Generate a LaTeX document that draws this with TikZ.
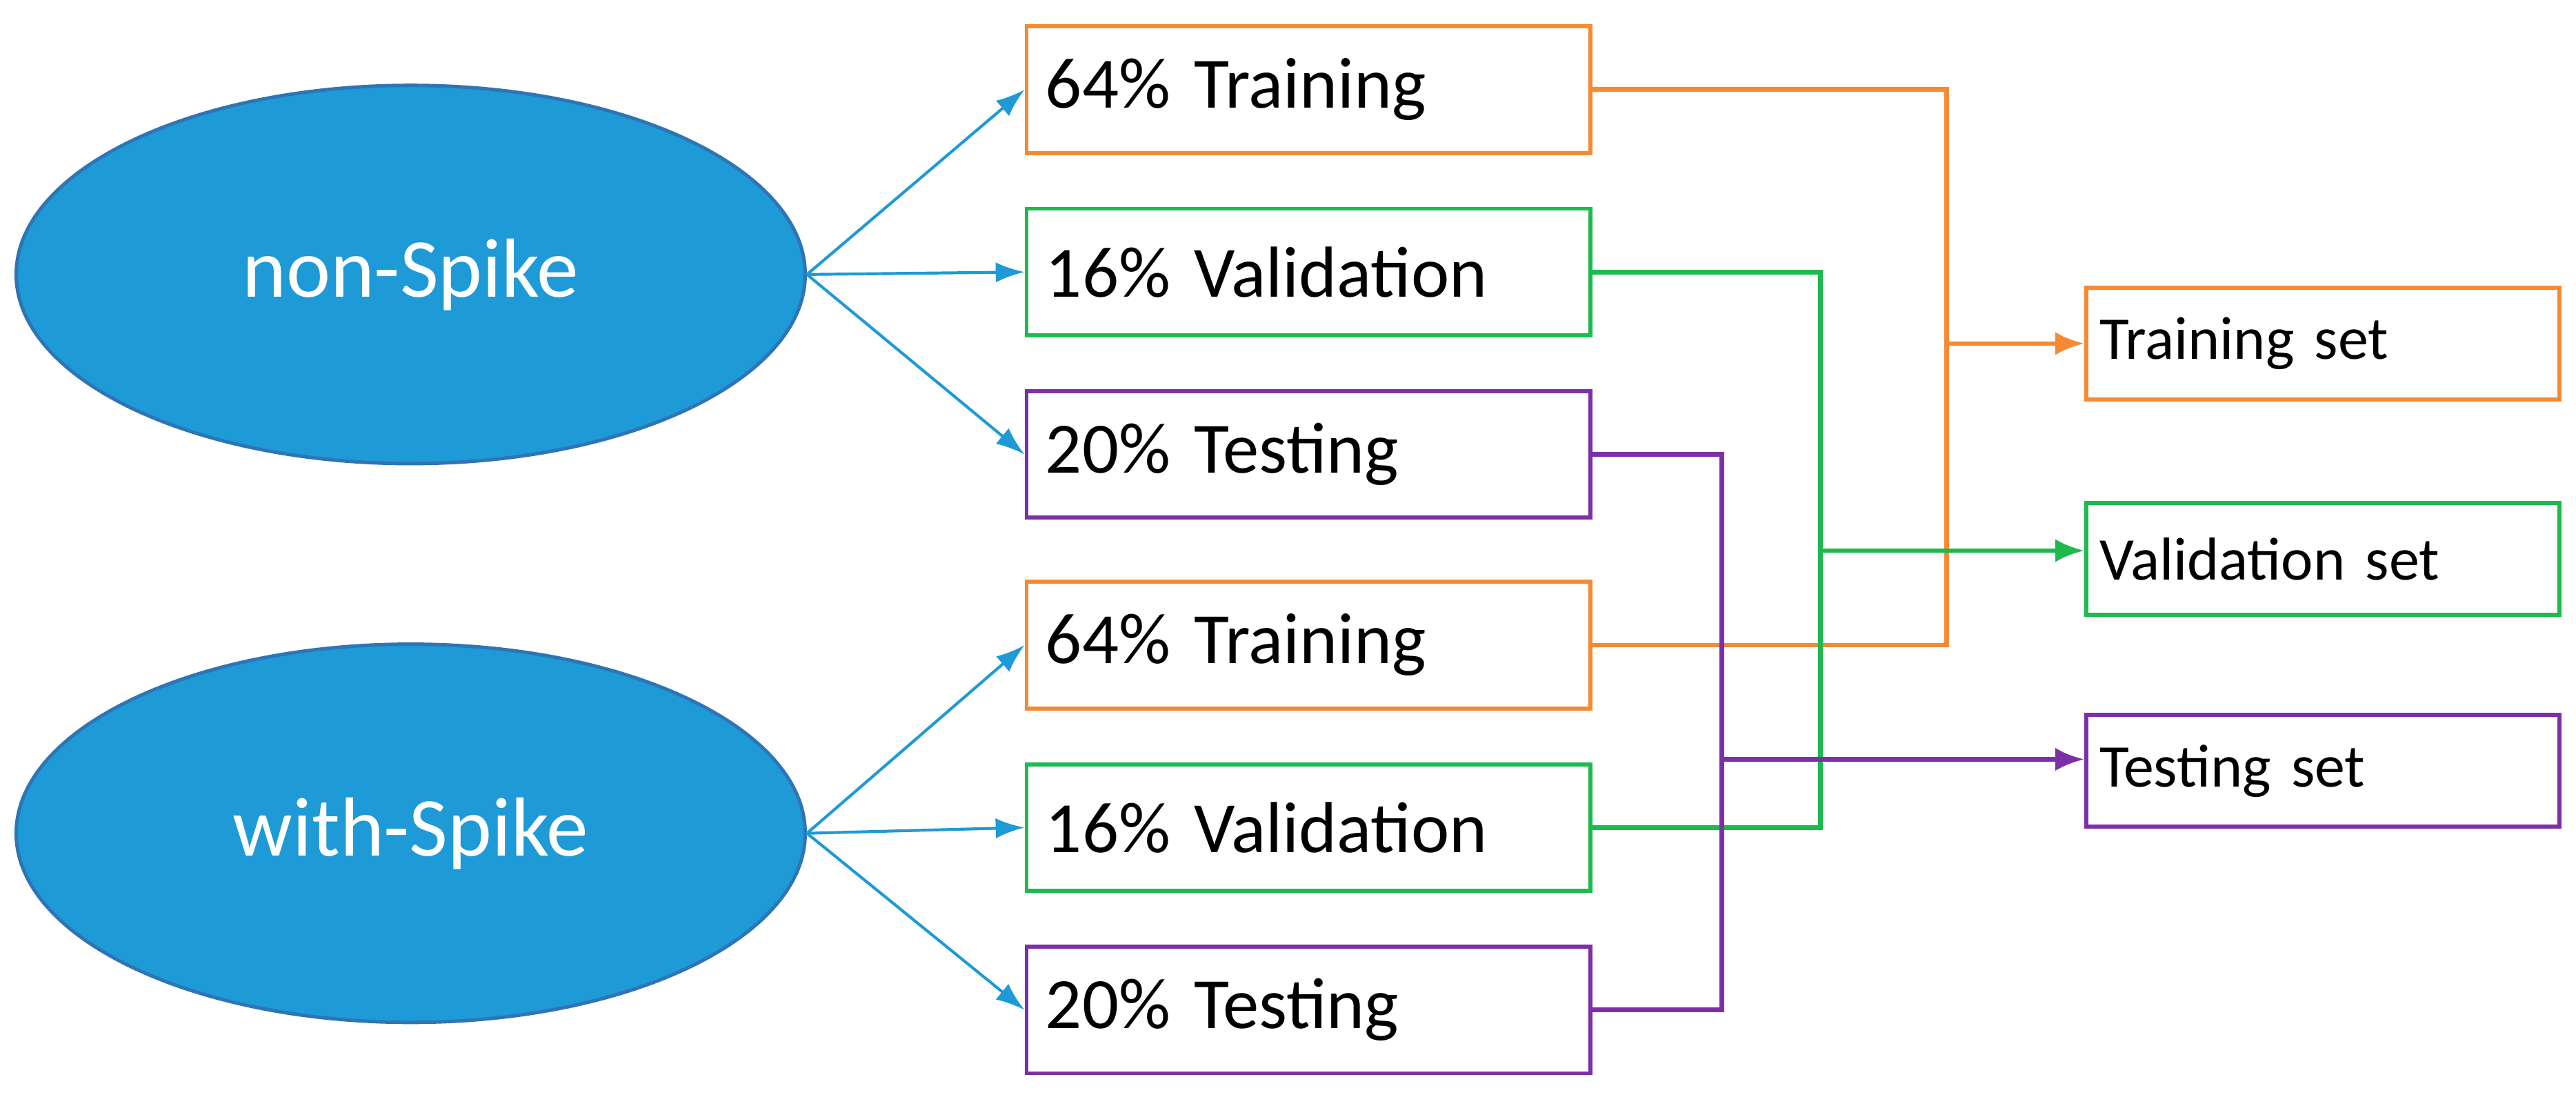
\documentclass[tikz,border=0pt]{standalone}
\usepackage{fontspec}
\setmainfont{Carlito}
\usetikzlibrary{arrows.meta,shapes.geometric}
\definecolor{eblue}{HTML}{1E9AD6}
\definecolor{eborder}{HTML}{2E75B6}
\definecolor{corange}{HTML}{F58A33}
\definecolor{cgreen}{HTML}{1DBA4E}
\definecolor{cpurple}{HTML}{7D2FA8}
\begin{document}
\begin{tikzpicture}[x=0.01cm,y=-0.01cm,
  ell/.style={ellipse,fill=eblue,draw=eborder,line width=0.6pt,minimum width=4.8cm,minimum height=2.3cm,text=white,font=\fontsize{14.5}{16}\selectfont,inner sep=0},
  lbox/.style={draw,line width=0.7pt,minimum width=3.43cm,minimum height=0.77cm,text width=3.2cm,align=left,font=\fontsize{12.5}{14}\selectfont,inner sep=0},
  rbox/.style={draw,line width=0.7pt,minimum width=2.88cm,minimum height=0.68cm,text width=2.72cm,align=left,font=\fontsize{10.5}{12}\selectfont,inner sep=0},
  barr/.style={-{Latex[length=5pt,width=3.5pt]},draw=eblue,line width=0.5pt},
  carr/.style={line width=0.8pt},
  tip/.style={-{Latex[length=5pt,width=4pt]}}]
\useasboundingbox (0,0) rectangle (1568,666);
\node[ell] (ns) at (250,167) {non-Spike};
\node[ell] (ws) at (250,507) {with-Spike};
\node[lbox,draw=corange] (a1) at (796.5,54.5) {64\% Training};
\node[lbox,draw=cgreen] (a2) at (796.5,165.5) {16\% Validation};
\node[lbox,draw=cpurple] (a3) at (796.5,276.5) {20\% Testing};
\node[lbox,draw=corange] (b1) at (796.5,392.5) {64\% Training};
\node[lbox,draw=cgreen] (b2) at (796.5,503.5) {16\% Validation};
\node[lbox,draw=cpurple] (b3) at (796.5,614.5) {20\% Testing};
\node[rbox,draw=corange] (tr) at (1414,209) {Training set};
\node[rbox,draw=cgreen] (va) at (1414,340) {Validation set};
\node[rbox,draw=cpurple] (te) at (1414,469) {Testing set};
\foreach \s/\t in {ns/a1,ns/a2,ns/a3,ws/b1,ws/b2,ws/b3}
  \draw[barr] (\s.east) -- (\t.west);
\coordinate (oj) at (1185,209);
\coordinate (gj) at (1108,335);
\coordinate (pj) at (1048,462);
\draw[carr,corange] (a1.east) -| (oj) |- (b1.east);
\draw[carr,corange,tip] (oj) -- (oj -| tr.west);
\draw[carr,cgreen] (a2.east) -| (gj) |- (b2.east);
\draw[carr,cgreen,tip] (gj) -- (gj -| va.west);
\draw[carr,cpurple] (a3.east) -| (pj) |- (b3.east);
\draw[carr,cpurple,tip] (pj) -- (pj -| te.west);
\end{tikzpicture}
\end{document}
